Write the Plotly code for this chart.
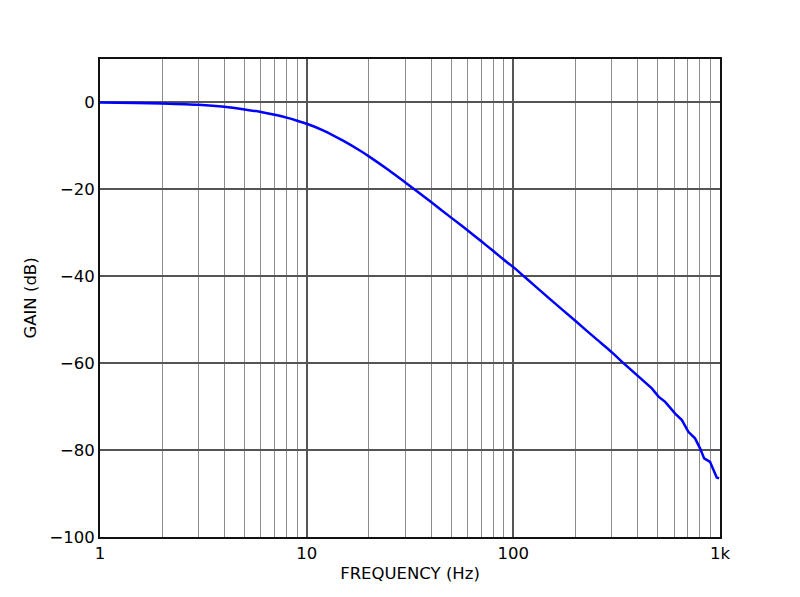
import plotly.graph_objects as go

freq_hz = [1, 1.5, 2, 3, 4, 5, 6, 7, 8, 9, 10, 12, 15, 18, 20, 25, 30, 40, 50, 60, 70, 80, 90,
           100, 112.5, 150, 200, 250, 300, 341, 396, 427, 468, 504, 543, 607, 654, 703, 757,
           801, 838, 895, 964, 990]
gain_db = [0, -0.1, -0.25, -0.55, -1.0, -1.6, -2.2, -2.85, -3.5, -4.2, -4.9, -6.4, -8.8, -11.0, -12.4,
           -15.6, -18.4, -22.9, -26.5, -29.4, -31.95, -34.2, -36.2,
           -37.9, -40.0, -45.2, -50.3, -54.3, -57.5, -60.0, -62.8, -64.3, -65.8, -67.7, -68.9,
           -71.6, -73.1, -75.8, -77.3, -79.6, -81.9, -82.7, -86.3, -86.5]

x_major = [1, 10, 100, 1000]
x_major_labels = ["1", "10", "100", "1k"]
x_minor = [m * d for d in (1, 10, 100) for m in range(2, 10)]
y_ticks = [-100, -80, -60, -40, -20, 0]

split = freq_hz.index(341)
line = dict(color="#0000ff", width=2.5)
fig = go.Figure()
fig.add_trace(go.Scatter(x=freq_hz[:split + 1], y=gain_db[:split + 1], mode="lines",
                         line=dict(**line, shape="spline", smoothing=0.6), showlegend=False))
fig.add_trace(go.Scatter(x=freq_hz[split:], y=gain_db[split:], mode="lines",
                         line=line, showlegend=False))

font = dict(family="DejaVu Sans", size=16.5, color="black")
fig.update_layout(
    width=800, height=597,
    margin=dict(l=100, r=80, t=59, b=60),
    paper_bgcolor="white", plot_bgcolor="white",
    font=font,
    xaxis=dict(
        type="log", range=[0, 3],
        tickvals=x_major, ticktext=x_major_labels,
        showgrid=True, gridcolor="#555555", gridwidth=1.6,
        minor=dict(tickvals=x_minor, showgrid=True, gridcolor="#8c8c8c", gridwidth=1, ticks=""),
        showline=True, mirror=True, linecolor="#111111", linewidth=1.8,
        ticks="", zeroline=False,
        title=dict(text="FREQUENCY (Hz)", font=font, standoff=6),
        tickfont=font,
    ),
    yaxis=dict(
        range=[-100, 10],
        tickvals=y_ticks,
        showgrid=True, gridcolor="#555555", gridwidth=1.6,
        showline=True, mirror=True, linecolor="#111111", linewidth=1.8,
        ticks="", zeroline=False,
        title=dict(text="GAIN (dB)", font=font, standoff=9),
        tickfont=font,
    ),
)

fig.write_html("out.html")
